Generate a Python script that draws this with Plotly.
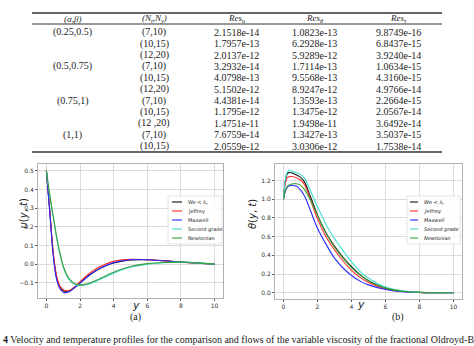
import plotly.graph_objects as go

W, H = 474, 346

# ---------------- table data ----------------
alpha_beta = ["(0.25,0.5)", "", "", "(0.5,0.75)", "", "", "(0.75,1)", "", "", "(1,1)", ""]
nt_ny = ["(7,10)", "(10,15)", "(12,20)", "(7,10)", "(10,15)", "(12,20)",
         "(7,10)", "(10,15)", "(12 ,20)", "(7,10)", "(10,15)"]
res_u = ["2.1518e-14", "1.7957e-13", "2.0137e-12", "3.2932e-14", "4.0798e-13", "5.1502e-12",
         "4.4381e-14", "1.1795e-12", "1.4751e-11", "7.6759e-14", "2.0559e-12"]
res_theta = ["1.0823e-13", "6.2928e-13", "5.9289e-12", "1.7114e-13", "9.5568e-13", "8.9247e-12",
             "1.3593e-13", "1.3475e-12", "1.9498e-11", "1.3427e-13", "3.0306e-12"]
res_tau = ["9.8749e-16", "6.8437e-15", "3.9240e-14", "1.0634e-15", "4.3160e-15", "4.9766e-14",
           "2.2664e-15", "2.0567e-14", "3.6492e-14", "3.5037e-15", "1.7538e-14"]
headers = ["<i>(α,β)</i>", "<i>(N<sub>t</sub>,N<sub>y</sub>)</i>", "<i>Res<sub>u</sub></i>",
           "<i>Res<sub>θ</sub></i>", "<i>Res<sub>τ</sub></i>"]

# ---------------- velocity (a) ----------------
y_a = [0, 0.2, 0.4, 0.6, 0.8, 1.0, 1.2, 1.4, 1.6, 1.8, 2.0, 2.5, 3.0, 3.5, 4.0, 4.5, 5.0, 6.0, 7.0, 8.0, 9.0, 10.0]
u_we = [0.5, 0.285, 0.06, -0.07, -0.122, -0.142, -0.146, -0.141, -0.13, -0.116, -0.1, -0.062, -0.032, -0.01, 0.006, 0.016, 0.022, 0.024, 0.018, 0.012, 0.006, 0.0]
u_jeffrey = [0.5, 0.29, 0.07, -0.06, -0.115, -0.137, -0.143, -0.139, -0.127, -0.111, -0.094, -0.054, -0.022, 0.0, 0.015, 0.023, 0.026, 0.024, 0.018, 0.011, 0.005, 0.0]
u_maxwell = [0.5, 0.28, 0.05, -0.08, -0.13, -0.15, -0.152, -0.145, -0.132, -0.117, -0.101, -0.063, -0.032, -0.009, 0.008, 0.018, 0.024, 0.024, 0.018, 0.011, 0.005, 0.0]
u_second = [0.5, 0.365, 0.255, 0.145, 0.055, -0.015, -0.06, -0.088, -0.104, -0.112, -0.114, -0.107, -0.09, -0.068, -0.048, -0.03, -0.016, 0.0, 0.008, 0.011, 0.007, 0.0]
u_newton = [0.5, 0.37, 0.26, 0.15, 0.06, -0.01, -0.055, -0.083, -0.1, -0.108, -0.111, -0.103, -0.085, -0.063, -0.043, -0.026, -0.012, 0.003, 0.009, 0.011, 0.007, 0.0]

# ---------------- temperature (b) ----------------
y_b = [0, 0.1, 0.2, 0.3, 0.5, 0.75, 1.0, 1.25, 1.5, 1.75, 2.0, 2.5, 3.0, 3.5, 4.0, 4.5, 5.0, 6.0, 7.0, 8.0, 9.0, 10.0]
t_we = [1.0, 1.19, 1.265, 1.284, 1.28, 1.26, 1.235, 1.18, 1.07, 0.95, 0.83, 0.64, 0.5, 0.38, 0.28, 0.195, 0.13, 0.05, 0.017, 0.005, 0.001, 0.0]
t_jeffrey = [1.0, 1.16, 1.225, 1.24, 1.242, 1.23, 1.205, 1.15, 1.04, 0.91, 0.79, 0.6, 0.46, 0.34, 0.24, 0.165, 0.11, 0.042, 0.014, 0.004, 0.001, 0.0]
t_maxwell = [1.0, 1.08, 1.12, 1.14, 1.147, 1.14, 1.1, 1.03, 0.92, 0.8, 0.69, 0.52, 0.37, 0.265, 0.185, 0.125, 0.085, 0.035, 0.012, 0.004, 0.001, 0.0]
t_second = [1.0, 1.2, 1.28, 1.305, 1.3, 1.285, 1.265, 1.22, 1.13, 1.02, 0.92, 0.73, 0.58, 0.45, 0.33, 0.23, 0.155, 0.062, 0.021, 0.006, 0.001, 0.0]
t_newton = [1.0, 1.09, 1.13, 1.15, 1.163, 1.165, 1.15, 1.1, 1.02, 0.93, 0.83, 0.64, 0.49, 0.37, 0.27, 0.19, 0.13, 0.05, 0.017, 0.005, 0.001, 0.0]

series_names = ["We < λ<sub>r</sub>", "Jeffrey", "Maxwell", "Second grade", "Newtonian"]
colors = ["#111111", "#ff2a2a", "#2a2aff", "#3fe0d0", "#3a9e3a"]

x_ticks = [0, 2, 4, 6, 8, 10]
ya_ticks = [-0.1, 0.0, 0.1, 0.2, 0.3, 0.4, 0.5]
yb_ticks = [0.0, 0.2, 0.4, 0.6, 0.8, 1.0, 1.2]

def px(x):
    return x / W

def py(y):
    return 1 - y / H

fig = go.Figure()
u_series = [u_we, u_jeffrey, u_maxwell, u_second, u_newton]
t_series = [t_we, t_jeffrey, t_maxwell, t_second, t_newton]
for name, c, u in zip(series_names, colors, u_series):
    fig.add_trace(go.Scatter(x=y_a, y=u, mode="lines", name=name, showlegend=False,
                             line=dict(color=c, width=1.1, shape="spline", smoothing=0.8),
                             xaxis="x", yaxis="y"))
for name, c, t in zip(series_names, colors, t_series):
    fig.add_trace(go.Scatter(x=y_b, y=t, mode="lines", name=name, showlegend=False,
                             line=dict(color=c, width=1.1, shape="spline", smoothing=0.8),
                             xaxis="x2", yaxis="y2"))

axis_common = dict(showline=True, mirror=True, linecolor="#b0b0b0", linewidth=1,
                   showgrid=True, gridcolor="#dcdcdc", gridwidth=1, zeroline=False,
                   ticks="outside", ticklen=2, tickcolor="#555", tickwidth=1,
                   tickfont=dict(family="DejaVu Sans", size=6, color="#333"))

fig.update_layout(
    width=W, height=H, margin=dict(l=0, r=0, t=0, b=0),
    paper_bgcolor="white", plot_bgcolor="white", showlegend=False,
    xaxis=dict(domain=[px(38), px(223)], range=[-0.5, 10.5], tickvals=x_ticks, anchor="y", **axis_common),
    yaxis=dict(domain=[py(298), py(164)], range=[-0.181, 0.536], tickvals=ya_ticks,
               tickformat=".1f", anchor="x", **axis_common),
    xaxis2=dict(domain=[px(275), px(462)], range=[-0.5, 10.5], tickvals=x_ticks, anchor="y2", **axis_common),
    yaxis2=dict(domain=[py(299), py(164)], range=[-0.066, 1.376], tickvals=yb_ticks,
                tickformat=".1f", anchor="x2", **axis_common),
)

ann = []
shapes = []
serif = "Liberation Serif"

# table rules
for yy, w in [(13, 1.3), (24, 1.0), (152, 1.3)]:
    shapes.append(dict(type="line", xref="paper", yref="paper", x0=px(32), x1=px(442),
                       y0=py(yy), y1=py(yy), line=dict(color="#333", width=w)))
col_x = [72.5, 154, 236, 314, 398.5]
for cx, h in zip(col_x, headers):
    ann.append(dict(x=px(cx), y=py(19), xref="paper", yref="paper", text=h, showarrow=False,
                    font=dict(family=serif, size=9, color="#222"), xanchor="center", yanchor="middle"))
for i in range(len(nt_ny)):
    yy = 32.3 + 11.37 * i
    for cx, col in zip(col_x, [alpha_beta, nt_ny, res_u, res_theta, res_tau]):
        if col[i]:
            ann.append(dict(x=px(cx), y=py(yy), xref="paper", yref="paper", text=col[i], showarrow=False,
                            font=dict(family=serif, size=10, color="#222"), xanchor="center", yanchor="middle"))

# axis titles
ann.append(dict(x=px(15), y=py(231), xref="paper", yref="paper", text="<i>u</i>(<i>y</i>, <i>t</i>)",
                showarrow=False, textangle=-90, font=dict(family="DejaVu Sans", size=10, color="#222")))
ann.append(dict(x=px(252), y=py(231), xref="paper", yref="paper", text="<i>θ</i>(<i>y</i>, <i>t</i>)",
                showarrow=False, textangle=-90, font=dict(family="DejaVu Sans", size=10, color="#222")))
ann.append(dict(x=px(130), y=py(314), xref="paper", yref="paper", text="<i>y</i>",
                showarrow=False, font=dict(family="DejaVu Sans", size=11, color="#222")))
ann.append(dict(x=px(367), y=py(313), xref="paper", yref="paper", text="<i>y</i>",
                showarrow=False, font=dict(family="DejaVu Sans", size=11, color="#222")))
ann.append(dict(x=px(128), y=py(325), xref="paper", yref="paper", text="(a)",
                showarrow=False, font=dict(family=serif, size=10, color="#222")))
ann.append(dict(x=px(406), y=py(325), xref="paper", yref="paper", text="(b)",
                showarrow=False, font=dict(family=serif, size=10, color="#222")))
ann.append(dict(x=px(1), y=py(339), xref="paper", yref="paper", xanchor="left", yanchor="middle",
                text="<b>4</b> Velocity and temperature profiles for the comparison and flows of the variable viscosity of the fractional Oldroyd-B fluid",
                showarrow=False, font=dict(family=serif, size=10, color="#222")))

# manual legends
leg_rows = [202, 211, 220, 229, 238]
for (bx0, bx1, lx0, lx1, tx, italic) in [(168, 222, 172, 182, 186, False), (407, 460, 410, 418, 422, True)]:
    shapes.append(dict(type="rect", xref="paper", yref="paper", x0=px(bx0), x1=px(bx1),
                       y0=py(244), y1=py(196), line=dict(color="#dddddd", width=0.8),
                       fillcolor="rgba(255,255,255,0.85)"))
    for ry, name, c in zip(leg_rows, series_names, colors):
        shapes.append(dict(type="line", xref="paper", yref="paper", x0=px(lx0), x1=px(lx1),
                           y0=py(ry), y1=py(ry), line=dict(color=c, width=1.1)))
        txt = f"<i>{name}</i>" if italic else name
        ann.append(dict(x=px(tx), y=py(ry), xref="paper", yref="paper", text=txt, showarrow=False,
                        xanchor="left", yanchor="middle",
                        font=dict(family="DejaVu Sans", size=5, color="#222")))

fig.update_layout(annotations=ann, shapes=shapes)
fig.write_html("out.html")
